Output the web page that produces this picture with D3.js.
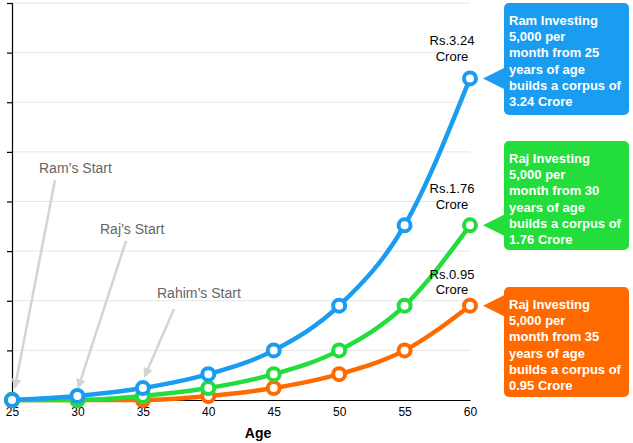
<!DOCTYPE html>
<html lang="en">
<head>
  <meta charset="UTF-8">
  <title>SIP corpus by starting age</title>
  <script src="https://cdn.jsdelivr.net/npm/d3@7"></script>
  <style>
    body { margin: 0; background: #fff; }
    text { font-family: "Liberation Sans", Arial, Helvetica, sans-serif; }
  </style>
</head>
<body>
  <script>
    // data (corpus in crore)
    const ages = [25, 30, 35, 40, 45, 50, 55, 60];
    const ramValues = [0, 0.04, 0.12, 0.26, 0.50, 0.95, 1.76, 3.24];
    const rajValues = [0, 0, 0.04, 0.12, 0.26, 0.50, 0.95, 1.76];
    const rahimValues = [0, 0, 0, 0.04, 0.12, 0.26, 0.50, 0.95];
    const endLabels = ["Rs.3.24", "Rs.1.76", "Rs.0.95"];
    const calloutTexts = [
      ["Ram Investing", "5,000 per", "month from 25", "years of age", "builds a corpus of", "3.24 Crore"],
      ["Raj Investing", "5,000 per", "month from 30", "years of age", "builds a corpus of", "1.76 Crore"],
      ["Raj Investing", "5,000 per", "month from 35", "years of age", "builds a corpus of", "0.95 Crore"]
    ];
    const startLabels = ["Ram\u2019s Start", "Raj\u2019s Start", "Rahim\u2019s Start"];
    const yTicks = [0, 0.5, 1, 1.5, 2, 2.5, 3, 3.5, 4];

    const width = 633, height = 443;
    const colors = ["#1a9cf0", "#22dd3c", "#ff6a00"];

    const svg = d3.select("body").append("svg")
      .attr("width", width)
      .attr("height", height);

    const x = d3.scaleLinear().domain([25, 60]).range([12, 470]);
    const y = d3.scaleLinear().domain([0, 4]).range([400, 3]);

    // gridlines
    svg.append("g")
      .selectAll("line")
      .data(yTicks.slice(1))
      .enter().append("line")
      .attr("x1", x(25)).attr("x2", x(60))
      .attr("y1", d => y(d)).attr("y2", d => y(d))
      .attr("stroke", "#e6e6e6");

    // y axis (no labels)
    const yAxis = d3.axisLeft(y).tickValues(yTicks).tickSize(5).tickFormat("");
    svg.append("g")
      .attr("transform", `translate(${x(25)},0)`)
      .call(yAxis)
      .call(g => g.selectAll("line, path").attr("stroke", "#000").attr("stroke-width", 1.2));

    // x axis
    const xAxis = d3.axisBottom(x).tickValues(ages).tickSize(0).tickPadding(7);
    svg.append("g")
      .attr("transform", `translate(0,${y(0)})`)
      .call(xAxis)
      .call(g => g.select("path").attr("stroke", "#000").attr("stroke-width", 1.2))
      .call(g => g.selectAll("text").attr("font-size", 12).attr("fill", "#000"));

    svg.append("text")
      .attr("x", 258).attr("y", 438)
      .attr("text-anchor", "middle")
      .attr("font-size", 14).attr("font-weight", "bold")
      .text("Age");

    // start annotations
    const arrowColor = "#d4d4d4";
    svg.append("defs").append("marker")
      .attr("id", "arr")
      .attr("viewBox", "0 0 10 10")
      .attr("refX", 8).attr("refY", 5)
      .attr("markerWidth", 4).attr("markerHeight", 4)
      .attr("orient", "auto")
      .append("path").attr("d", "M0,0L10,5L0,10z").attr("fill", arrowColor);

    const starts = [
      { tx: 39, ty: 173, from: [55, 180], to: [x(25) + 3, 387] },
      { tx: 100, ty: 234, from: [126, 241], to: [x(30) + 1, 387] },
      { tx: 157, ty: 298, from: [174, 309], to: [x(35) + 2, 376] }
    ];
    starts.forEach((s, i) => {
      svg.append("line")
        .attr("x1", s.from[0]).attr("y1", s.from[1])
        .attr("x2", s.to[0]).attr("y2", s.to[1])
        .attr("stroke", arrowColor).attr("stroke-width", 2.5)
        .attr("marker-end", "url(#arr)");
      svg.append("text")
        .attr("x", s.tx).attr("y", s.ty)
        .attr("font-size", 14).attr("fill", "#666")
        .text(startLabels[i]);
    });

    // lines + points (drawn orange, green, blue so blue is on top)
    const series = [ramValues, rajValues, rahimValues];
    const line = d3.line()
      .x((d, i) => x(ages[i]))
      .y(d => y(d))
      .curve(d3.curveMonotoneX);

    [2, 1, 0].forEach(k => {
      const g = svg.append("g");
      g.append("path")
        .datum(series[k])
        .attr("d", line)
        .attr("fill", "none")
        .attr("stroke", colors[k])
        .attr("stroke-width", 4.5);
      g.selectAll("circle")
        .data(series[k])
        .enter().append("circle")
        .attr("cx", (d, i) => x(ages[i]))
        .attr("cy", d => y(d))
        .attr("r", 6)
        .attr("fill", "#fff")
        .attr("stroke", colors[k])
        .attr("stroke-width", 4);
    });

    // end value labels
    const labelOffsets = [33, 32, 27];
    series.forEach((s, k) => {
      const v = s[s.length - 1];
      const t = svg.append("text")
        .attr("x", x(60) - 18).attr("y", y(v) - labelOffsets[k])
        .attr("text-anchor", "middle")
        .attr("font-size", 13).attr("fill", "#000");
      t.append("tspan").text(endLabels[k]);
      t.append("tspan").attr("x", x(60) - 18).attr("dy", 15.5).text("Crore");
    });

    // callouts
    const boxes = [
      { top: 3, bottom: 115 },
      { top: 141, bottom: 250 },
      { top: 287, bottom: 397 }
    ];
    series.forEach((s, k) => {
      const v = s[s.length - 1];
      const py = y(v);
      const b = boxes[k];
      const bx = 504, bw = 125;
      svg.append("rect")
        .attr("x", bx).attr("y", b.top)
        .attr("width", bw).attr("height", b.bottom - b.top)
        .attr("rx", 5).attr("fill", colors[k]);
      svg.append("path")
        .attr("d", `M${x(60) + 13},${py}L${bx + 1},${py - 11}L${bx + 1},${py + 11}Z`)
        .attr("fill", colors[k]);
      const t = svg.append("text")
        .attr("x", bx + 5).attr("y", b.top + 22)
        .attr("font-size", 13).attr("font-weight", "bold")
        .attr("fill", "#fff");
      calloutTexts[k].forEach((ln, j) => {
        t.append("tspan").attr("x", bx + 5).attr("dy", j === 0 ? 0 : 16.2).text(ln);
      });
    });
  </script>
</body>
</html>
